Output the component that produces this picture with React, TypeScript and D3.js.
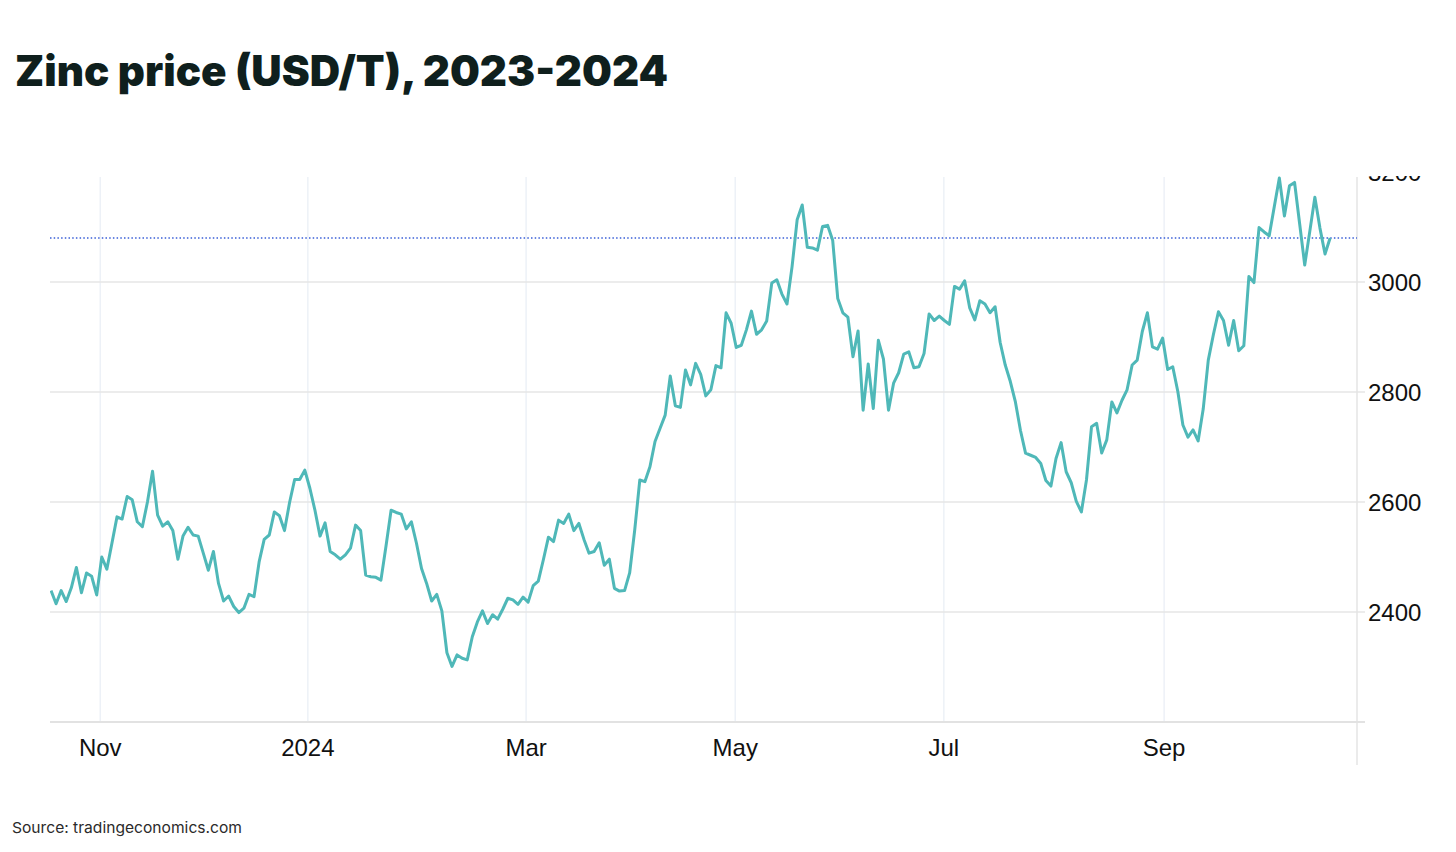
import { useRef, useEffect } from 'react'
import * as d3 from 'd3'

const W = 1456
const H = 852
// plot frame (px)
const LEFT = 50
const RIGHT = 1357
const TOP = 175
const BOTTOM = 722

// zinc close, one value per LME trading day (mid-Oct 2023 .. mid-Oct 2024)
const prices = [
  2439, 2415, 2439, 2419, 2444, 2481, 2435, 2471, 2465, 2431,
  2500, 2478, 2525, 2573, 2569, 2610, 2604, 2564, 2555, 2600,
  2656, 2576, 2556, 2564, 2548, 2496, 2538, 2554, 2540, 2538,
  2507, 2476, 2510, 2452, 2420, 2429, 2410, 2399, 2407, 2432,
  2428, 2491, 2532, 2540, 2582, 2575, 2548, 2599, 2641, 2641,
  2658, 2625, 2585, 2538, 2562, 2510, 2504, 2496, 2504, 2516,
  2558, 2548, 2467, 2464, 2463, 2458, 2520, 2585, 2581, 2578,
  2551, 2564, 2525, 2479, 2452, 2420, 2432, 2402, 2326, 2301,
  2322, 2316, 2313, 2355, 2382, 2402, 2379, 2395, 2387, 2405,
  2425, 2422, 2414, 2427, 2418, 2448, 2456, 2495, 2536, 2528,
  2567, 2561, 2578, 2548, 2561, 2532, 2507, 2510, 2526, 2485,
  2496, 2443, 2438, 2439, 2471, 2549, 2640, 2637, 2664, 2710,
  2734, 2758, 2829, 2775, 2772, 2840, 2813, 2852, 2832, 2793,
  2804, 2848, 2844, 2944, 2925, 2881, 2885, 2913, 2947, 2905,
  2913, 2929, 2998, 3004, 2978, 2960, 3028, 3113, 3140, 3063,
  3062, 3058, 3101, 3103, 3076, 2970, 2944, 2936, 2864, 2911,
  2767, 2851, 2770, 2894, 2860, 2767, 2816, 2835, 2869, 2873,
  2844, 2846, 2870, 2942, 2930, 2938, 2930, 2923, 2992, 2987,
  3002, 2953, 2931, 2966, 2960, 2944, 2955, 2890, 2849, 2819,
  2782, 2730, 2689, 2685, 2681, 2670, 2639, 2629, 2679, 2708,
  2655, 2635, 2601, 2582, 2640, 2737, 2743, 2689, 2713, 2782,
  2762, 2785, 2804, 2849, 2858, 2910, 2944, 2882, 2878, 2898,
  2841, 2846, 2801, 2740, 2718, 2731, 2711, 2769, 2858, 2904,
  2946, 2930, 2885, 2930, 2875, 2884, 3010, 2999, 3099, 3091,
  3084, 3137, 3189, 3120, 3175, 3181, 3106, 3031, 3092, 3154,
  3098, 3051, 3080,
]

// month starts, as (fractional) trading-day index
const monthLabels = ['Nov', '2024', 'Mar', 'May', 'Jul', 'Sep']
const monthIndex = [9.7, 50.6, 93.6, 134.8, 175.9, 219.3]

const yTicks = [2400, 2600, 2800, 3000, 3200]

const LINE_COLOR = '#4fb8b8'
const AXIS_FONT = '"Liberation Sans", Arial, Helvetica, sans-serif'

export default function App() {
  const svgRef = useRef<SVGSVGElement>(null)

  useEffect(() => {
    document.body.style.margin = '0'
    if (!svgRef.current) return
    const svg = d3.select(svgRef.current)
    svg.selectAll('*').remove()

    const x = d3.scaleLinear().domain([-0.2, 257.3]).range([LEFT, RIGHT])
    const y = d3.scaleLinear().domain([2200, 3200]).range([BOTTOM, 172])

    svg.append('rect').attr('width', W).attr('height', H).attr('fill', '#fff')

    const defs = svg.append('defs')
    defs.append('clipPath').attr('id', 'plot-clip')
      .append('rect').attr('x', LEFT).attr('y', TOP).attr('width', RIGHT - LEFT).attr('height', BOTTOM - TOP)
    defs.append('clipPath').attr('id', 'axis-clip')
      .append('rect').attr('x', 0).attr('y', TOP + 1).attr('width', W).attr('height', H - TOP)

    // title
    svg.append('text')
      .attr('x', 15).attr('y', 86)
      .attr('font-family', 'Inter, "Noto Sans", sans-serif')
      .attr('font-weight', 900).attr('font-size', 42)
      .attr('fill', '#0f1f1d')
      .attr('textLength', 653).attr('lengthAdjust', 'spacingAndGlyphs')
      .text('Zinc price (USD/T), 2023-2024')

    // vertical month grid
    svg.append('g').selectAll('line').data(monthIndex).join('line')
      .attr('x1', d => x(d)).attr('x2', d => x(d))
      .attr('y1', TOP + 2).attr('y2', BOTTOM)
      .attr('stroke', '#edf1f7').attr('stroke-width', 1.5)

    // horizontal grid + ticks
    const ax = svg.append('g').attr('clip-path', 'url(#axis-clip)')
    ax.selectAll('line.h').data(yTicks).join('line')
      .attr('class', 'h')
      .attr('x1', LEFT).attr('x2', RIGHT + 8)
      .attr('y1', d => y(d)).attr('y2', d => y(d))
      .attr('stroke', '#e6e6e6').attr('stroke-width', 1.5)
    ax.selectAll('text').data(yTicks).join('text')
      .attr('x', RIGHT + 11).attr('y', d => y(d)).attr('dy', '0.36em')
      .attr('font-family', AXIS_FONT).attr('font-size', 24).attr('fill', '#111')
      .text(d => d)

    // right axis line and bottom axis line
    svg.append('line')
      .attr('x1', RIGHT).attr('x2', RIGHT).attr('y1', TOP + 2).attr('y2', 765)
      .attr('stroke', '#e4e4e4').attr('stroke-width', 1.5)
    svg.append('line')
      .attr('x1', LEFT).attr('x2', RIGHT + 8).attr('y1', BOTTOM).attr('y2', BOTTOM)
      .attr('stroke', '#e2e2e2').attr('stroke-width', 2)

    // month labels
    svg.append('g').selectAll('text').data(monthIndex).join('text')
      .attr('x', d => x(d)).attr('y', 756)
      .attr('text-anchor', 'middle')
      .attr('font-family', AXIS_FONT).attr('font-size', 24).attr('fill', '#111')
      .text((_, i) => monthLabels[i])

    // last-price reference line
    const last = prices[prices.length - 1]
    svg.append('line')
      .attr('x1', LEFT).attr('x2', RIGHT)
      .attr('y1', y(last)).attr('y2', y(last))
      .attr('stroke', '#3a5fd8').attr('stroke-width', 1.5)
      .attr('stroke-dasharray', '1.5 2.2')

    const line = d3.line<number>().x((_, i) => x(i)).y(d => y(d))
    svg.append('path').datum(prices)
      .attr('clip-path', 'url(#plot-clip)')
      .attr('d', line)
      .attr('fill', 'none').attr('stroke', LINE_COLOR).attr('stroke-width', 3)
      .attr('stroke-linejoin', 'round')

    // source
    svg.append('text')
      .attr('x', 12).attr('y', 833)
      .attr('font-family', 'Inter, "Open Sans", sans-serif')
      .attr('font-size', 15).attr('fill', '#2b2b2b')
      .attr('textLength', 230).attr('lengthAdjust', 'spacingAndGlyphs')
      .text('Source: tradingeconomics.com')
  }, [])

  return (
    <div style={{ position: 'absolute', left: 0, top: 0 }}>
      <svg ref={svgRef} width={W} height={H} style={{ display: 'block' }} />
    </div>
  )
}
